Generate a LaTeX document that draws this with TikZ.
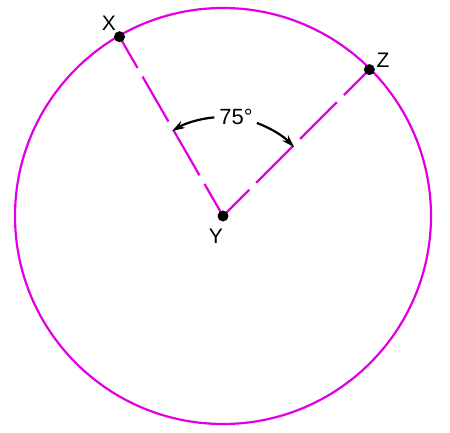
\documentclass[tikz,border=0pt]{standalone}
\usepackage{fontspec}
\setmainfont{Liberation Sans}
\usetikzlibrary{arrows.meta}
\definecolor{mag}{RGB}{226,0,226}
\tikzset{
  ring/.style={draw=mag, line width=2.2pt},
  radial/.style={draw=mag, line width=2.2pt, dash pattern=on 52pt off 10pt, dash phase=16pt},
  dimarc/.style={draw=black, line width=2.2pt, -{Stealth[length=13pt,width=8pt]}},
  dot/.style={circle, fill=black, inner sep=0pt, minimum size=11pt},
  lbl/.style={font=\fontsize{21}{23}\selectfont, inner sep=0pt}
}
\begin{document}
\begin{tikzpicture}[x=1pt,y=1pt]
\useasboundingbox (0,0) rectangle (450,432);
\coordinate (Y) at (223,216);
\coordinate (X) at ([shift={(223pt,216pt)}]120:207pt);
\coordinate (Z) at ([shift={(223pt,216pt)}]45:207pt);
\draw[ring] (Y) circle[radius=208pt];
\draw[radial] (X) -- (Y);
\draw[radial] (Z) -- (Y);
\draw[dimarc] (Y) ++(95:99pt) arc[start angle=95, end angle=121, radius=99pt];
\draw[dimarc] (Y) ++(70:99pt) arc[start angle=70, end angle=44, radius=99pt];
\node[dot] (dX) at (X) {};
\node[dot] (dY) at (Y) {};
\node[dot] (dZ) at (Z) {};
\node[lbl] (lX) at (109,409) {X};
\node[lbl] (lY) at (216,196) {Y};
\node[lbl] (lZ) at (383,372) {Z};
\node[lbl, font=\fontsize{22}{24}\selectfont] (ang) at (236,315) {75°};
\end{tikzpicture}
\end{document}
